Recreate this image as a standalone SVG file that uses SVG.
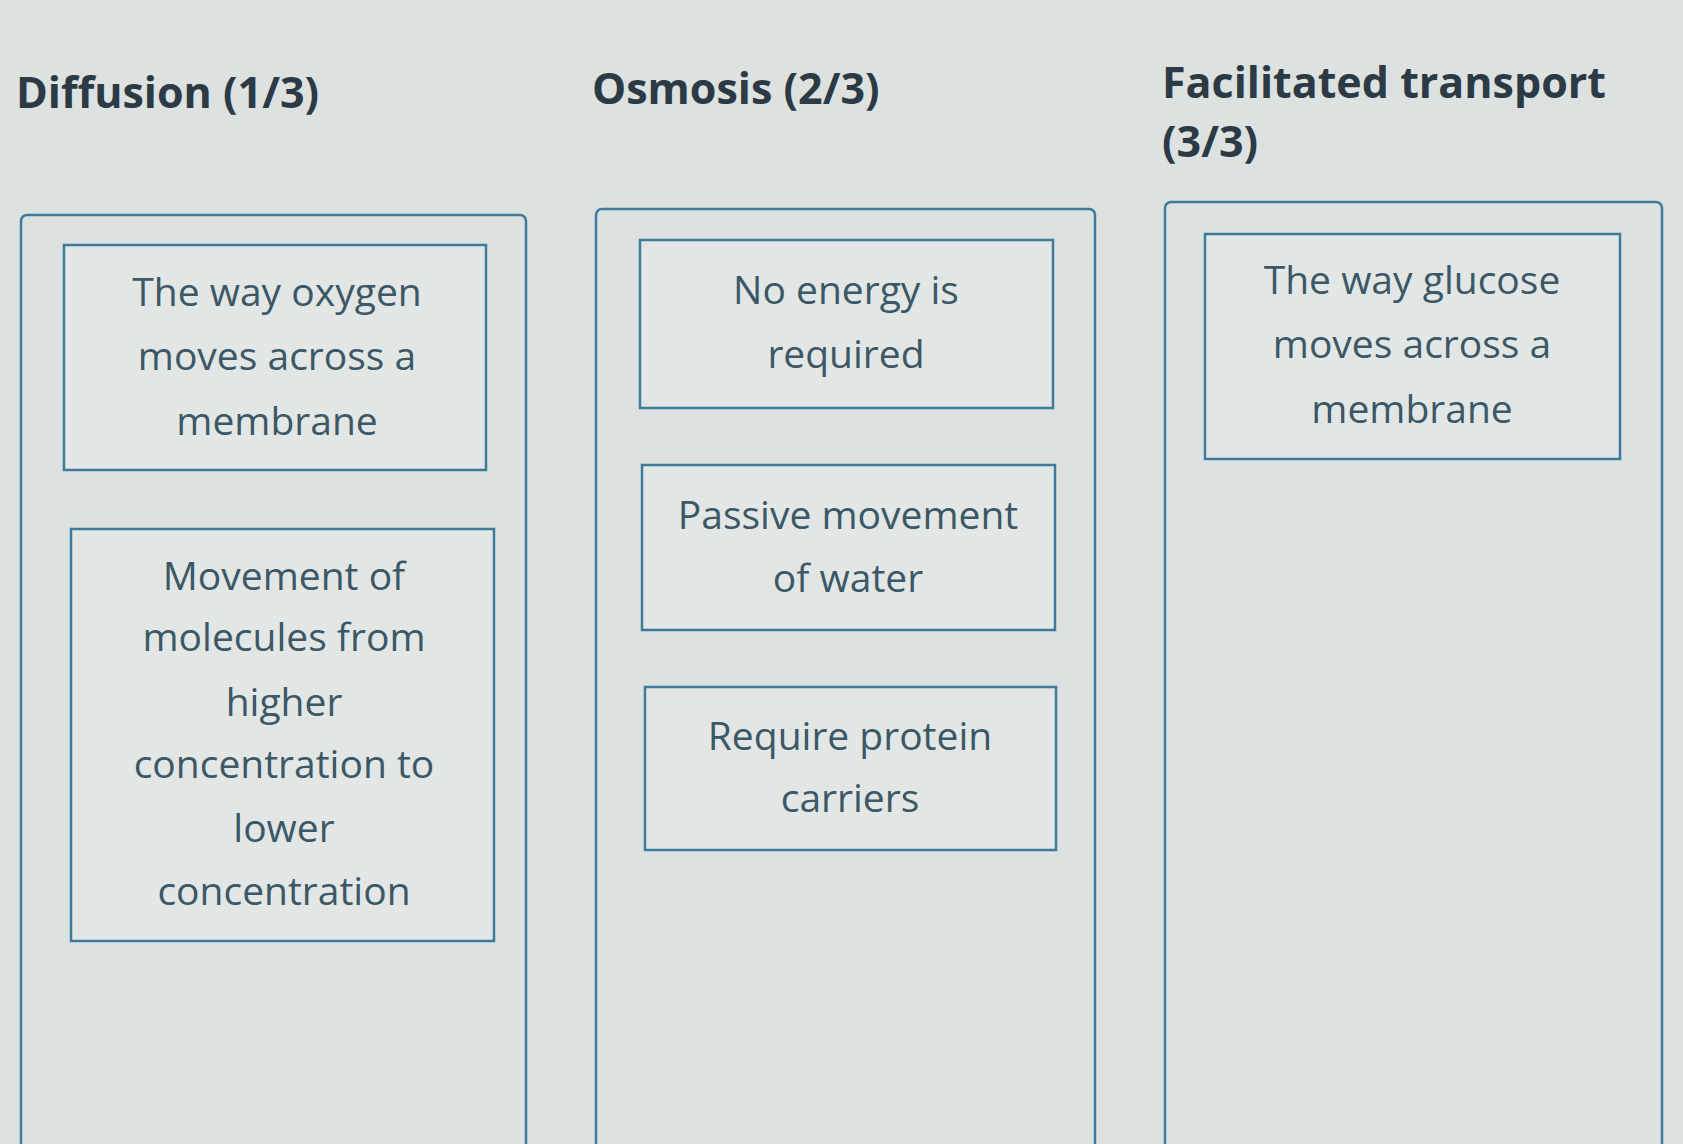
<svg xmlns="http://www.w3.org/2000/svg" width="1683" height="1144" viewBox="0 0 1683 1144">
<style>
.t{font-family:"Open Sans","Liberation Sans",sans-serif;font-weight:bold;font-size:43px;fill:#2b3a45}
.col{fill:none;stroke:#3d7b9c;stroke-width:2.5}
.card{fill:#e2e7e5;stroke:#3d7b9c;stroke-width:2.5}
.c{font-family:"Open Sans","Liberation Sans",sans-serif;font-size:39px;fill:#3c5866;text-anchor:middle}
</style>
<rect width="1683" height="1144" fill="#dde2e0"/>
<text class="t" x="16" y="108">Diffusion (1/3)</text>
<text class="t" x="592" y="104">Osmosis (2/3)</text>
<text class="t" x="1162" y="98">Facilitated transport</text>
<text class="t" x="1162" y="157">(3/3)</text>
<g id="columns">
<rect class="col" x="21" y="215" width="505" height="950" rx="6"/>
<rect class="col" x="596" y="209" width="499" height="960" rx="6"/>
<rect class="col" x="1165" y="202" width="497" height="970" rx="6"/>
</g>
<g id="card1"><rect class="card" x="64" y="245" width="422" height="225"/>
<text class="c" x="277" y="306">The way oxygen</text><text class="c" x="277" y="370">moves across a</text><text class="c" x="277" y="435">membrane</text></g>
<g id="card2"><rect class="card" x="71" y="529" width="423" height="412"/>
<text class="c" x="284" y="590">Movement of</text><text class="c" x="284" y="651">molecules from</text><text class="c" x="284" y="716">higher</text><text class="c" x="284" y="778">concentration to</text><text class="c" x="284" y="842">lower</text><text class="c" x="284" y="905">concentration</text></g>
<g id="card3"><rect class="card" x="640" y="240" width="413" height="168"/>
<text class="c" x="846" y="304">No energy is</text><text class="c" x="846" y="368">required</text></g>
<g id="card4"><rect class="card" x="642" y="465" width="413" height="165"/>
<text class="c" x="848" y="529">Passive movement</text><text class="c" x="848" y="592">of water</text></g>
<g id="card5"><rect class="card" x="645" y="687" width="411" height="163"/>
<text class="c" x="850" y="750">Require protein</text><text class="c" x="850" y="812">carriers</text></g>
<g id="card6"><rect class="card" x="1205" y="234" width="415" height="225"/>
<text class="c" x="1412" y="294">The way glucose</text><text class="c" x="1412" y="358">moves across a</text><text class="c" x="1412" y="423">membrane</text></g>
<g id="connectors"/>
</svg>
